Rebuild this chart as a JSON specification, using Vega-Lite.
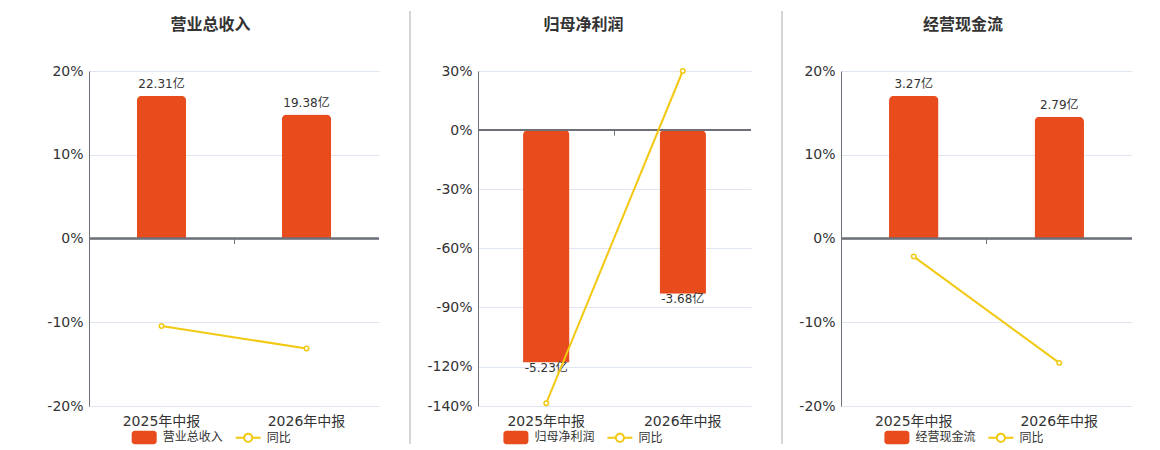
{
  "$schema": "https://vega.github.io/schema/vega-lite/v6.json",
  "background": "white",
  "padding": {"left": 46, "top": 10, "right": 0, "bottom": 0},
  "spacing": 15,
  "config": {
    "view": {"stroke": null},
    "font": "DejaVu Sans, Noto Sans CJK SC",
    "axis": {"labelFont": "DejaVu Sans, Noto Sans CJK SC", "labelColor": "#333333", "labelFontSize": 14},
    "legend": {
      "direction": "horizontal", "title": null, "symbolSize": 625, "symbolOpacity": 1, "symbolStrokeWidth": 0,
      "labelFont": "DejaVu Sans, Noto Sans CJK SC", "labelFontSize": 12, "labelColor": "#333333",
      "labelOffset": 6, "columnPadding": 12, "padding": 0
    },
    "title": {"font": "Noto Sans CJK SC", "fontSize": 16, "fontWeight": "bold", "color": "#333333", "anchor": "middle", "frame": "bounds", "offset": 31}
  },
  "resolve": {"scale": {"color": "independent", "x": "independent", "y": "independent"}, "legend": {"color": "independent"}},
  "hconcat": [
    {
      "title": {"text": "营业总收入", "dx": -3},
      "width": 290, "height": 335,
      "data": {"values": [
        {"period": "2025年中报", "amount": 22.31, "yoy": -10.46},
        {"period": "2026年中报", "amount": 19.38, "yoy": -13.13}
      ]},
      "resolve": {"scale": {"y": "independent"}, "axis": {"x": "independent"}},
      "layer": [
        {
          "encoding": {
            "x": {"field": "period", "type": "nominal", "sort": null, "scale": {"paddingInner": 0, "paddingOuter": 0}, "axis": {"orient": "bottom", "title": null, "domain": false, "ticks": false, "labelAngle": 0, "labelPadding": 8}},
            "y": {"field": "amount", "type": "quantitative", "scale": {"domain": [-26.19, 26.19], "nice": false, "zero": false}, "axis": null}
          },
          "layer": [
            {
              "mark": {"type": "bar", "width": {"band": 0.34}, "cornerRadiusEnd": 5},
              "encoding": {"color": {"datum": "营业总收入", "scale": {"domain": ["营业总收入", "同比"], "range": ["#E84C1D", "#F2C811"]},
                "legend": {"orient": "none", "legendX": 42.7, "legendY": 353.5, "symbolSize": 625,
                  "encode": {"symbols": {"update": {
                    "shape": {"signal": "datum.value === '同比' ? 'M-1,-0.08H-0.38V0.08H-1ZM0.38,-0.08H1V0.08H0.38ZM-0.4,0A0.4,0.4 0 1,1 0.4,0A0.4,0.4 0 1,1 -0.4,0ZM-0.25,0A0.25,0.25 0 1,0 0.25,0A0.25,0.25 0 1,0 -0.25,0Z' : 'M-0.76,-0.54H0.76A0.24,0.24 0 0 1 1,-0.3V0.3A0.24,0.24 0 0 1 0.76,0.54H-0.76A0.24,0.24 0 0 1 -1,0.3V-0.3A0.24,0.24 0 0 1 -0.76,-0.54Z'"}
                  }}}}}}
            },
            {
              "mark": {"type": "text", "baseline": "bottom", "dy": -5, "fontSize": 12, "color": "#333333", "text": {"expr": "replace(format(datum.amount, '.2f'), '\u2212', '-') + '亿'"}}
            }
          ]
        },
        {
          "layer": [
            {
              "mark": {"type": "rule", "color": "#6E7079", "strokeWidth": 2},
              "encoding": {"y": {"datum": 0, "type": "quantitative", "scale": {"domain": [-20, 20], "nice": false}, "axis": {"orient": "left", "values": [-20, -10, 0, 10, 20], "labelExpr": "datum.value + '%'", "title": null, "ticks": false, "labelPadding": 6, "domainColor": "#6E7079", "domainWidth": 1, "grid": true, "gridColor": "#E0E6F1"}}}
            },
            {
              "mark": {"type": "line", "strokeWidth": 2},
              "encoding": {
                "x": {"field": "period", "type": "nominal", "sort": null, "axis": {"orient": "bottom", "offset": -167.5, "domain": false, "labels": false, "ticks": true, "tickSize": 5, "tickColor": "#6E7079", "bandPosition": 0, "title": null, "grid": false}},
                "y": {"field": "yoy", "type": "quantitative"},
                "color": {"datum": "同比"}
              }
            },
            {
              "mark": {"type": "point", "filled": true, "fill": "#ffffff", "stroke": "#F2C811", "strokeWidth": 1.5, "size": 20, "opacity": 1},
              "encoding": {
                "x": {"field": "period", "type": "nominal", "sort": null},
                "y": {"field": "yoy", "type": "quantitative"}
              }
            }
          ]
        }
      ]
    },
    {
      "width": 15, "height": 335,
      "data": {"values": [{"a": -0.113, "b": 1.179}]},
      "mark": {"type": "rule", "color": "#AAAAAA", "strokeWidth": 1},
      "encoding": {
        "x": {"datum": 1, "type": "quantitative", "scale": {"domain": [0, 1]}, "axis": null},
        "y": {"field": "a", "type": "quantitative", "scale": {"domain": [0, 1], "nice": false, "zero": false}, "axis": null},
        "y2": {"field": "b"}
      }
    },
    {
      "title": {"text": "归母净利润", "dx": -6},
      "width": 273, "height": 335,
      "data": {"values": [
        {"period": "2025年中报", "amount": -5.23, "yoy": -138.6},
        {"period": "2026年中报", "amount": -3.68, "yoy": 30.0}
      ]},
      "resolve": {"scale": {"y": "independent"}, "axis": {"x": "independent"}},
      "layer": [
        {
          "encoding": {
            "x": {"field": "period", "type": "nominal", "sort": null, "scale": {"paddingInner": 0, "paddingOuter": 0}, "axis": {"orient": "bottom", "title": null, "domain": false, "ticks": false, "labelAngle": 0, "labelPadding": 8}},
            "y": {"field": "amount", "type": "quantitative", "scale": {"domain": [-6.207, 1.33], "nice": false, "zero": false}, "axis": null}
          },
          "layer": [
            {
              "mark": {"type": "bar", "width": {"band": 0.34}, "cornerRadiusEnd": 5},
              "encoding": {"color": {"datum": "归母净利润", "scale": {"domain": ["归母净利润", "同比"], "range": ["#E84C1D", "#F2C811"]},
                "legend": {"orient": "none", "legendX": 25.4, "legendY": 353.5, "symbolSize": 625,
                  "encode": {"symbols": {"update": {
                    "shape": {"signal": "datum.value === '同比' ? 'M-1,-0.08H-0.38V0.08H-1ZM0.38,-0.08H1V0.08H0.38ZM-0.4,0A0.4,0.4 0 1,1 0.4,0A0.4,0.4 0 1,1 -0.4,0ZM-0.25,0A0.25,0.25 0 1,0 0.25,0A0.25,0.25 0 1,0 -0.25,0Z' : 'M-0.76,-0.54H0.76A0.24,0.24 0 0 1 1,-0.3V0.3A0.24,0.24 0 0 1 0.76,0.54H-0.76A0.24,0.24 0 0 1 -1,0.3V-0.3A0.24,0.24 0 0 1 -0.76,-0.54Z'"}
                  }}}}}}
            },
            {
              "mark": {"type": "text", "baseline": "top", "dy": 0, "fontSize": 12, "color": "#333333", "text": {"expr": "replace(format(datum.amount, '.2f'), '\u2212', '-') + '亿'"}}
            }
          ]
        },
        {
          "layer": [
            {
              "mark": {"type": "rule", "color": "#6E7079", "strokeWidth": 2},
              "encoding": {"y": {"datum": 0, "type": "quantitative", "scale": {"domain": [-140, 30], "nice": false}, "axis": {"orient": "left", "values": [-140, -120, -90, -60, -30, 0, 30], "labelExpr": "datum.value + '%'", "title": null, "ticks": false, "labelPadding": 6, "domainColor": "#6E7079", "domainWidth": 1, "grid": true, "gridColor": "#E0E6F1"}}}
            },
            {
              "mark": {"type": "line", "strokeWidth": 2},
              "encoding": {
                "x": {"field": "period", "type": "nominal", "sort": null, "axis": {"orient": "bottom", "offset": -275.9, "domain": false, "labels": false, "ticks": true, "tickSize": 5, "tickColor": "#6E7079", "bandPosition": 0, "title": null, "grid": false}},
                "y": {"field": "yoy", "type": "quantitative"},
                "color": {"datum": "同比"}
              }
            },
            {
              "mark": {"type": "point", "filled": true, "fill": "#ffffff", "stroke": "#F2C811", "strokeWidth": 1.5, "size": 20, "opacity": 1},
              "encoding": {
                "x": {"field": "period", "type": "nominal", "sort": null},
                "y": {"field": "yoy", "type": "quantitative"}
              }
            }
          ]
        }
      ]
    },
    {
      "width": 15, "height": 335,
      "data": {"values": [{"a": -0.113, "b": 1.179}]},
      "mark": {"type": "rule", "color": "#AAAAAA", "strokeWidth": 1},
      "encoding": {
        "x": {"datum": 1, "type": "quantitative", "scale": {"domain": [0, 1]}, "axis": null},
        "y": {"field": "a", "type": "quantitative", "scale": {"domain": [0, 1], "nice": false, "zero": false}, "axis": null},
        "y2": {"field": "b"}
      }
    },
    {
      "title": {"text": "经营现金流", "dx": -3},
      "width": 291, "height": 335,
      "data": {"values": [
        {"period": "2025年中报", "amount": 3.27, "yoy": -2.16},
        {"period": "2026年中报", "amount": 2.79, "yoy": -14.85}
      ]},
      "resolve": {"scale": {"y": "independent"}, "axis": {"x": "independent"}},
      "layer": [
        {
          "encoding": {
            "x": {"field": "period", "type": "nominal", "sort": null, "scale": {"paddingInner": 0, "paddingOuter": 0}, "axis": {"orient": "bottom", "title": null, "domain": false, "ticks": false, "labelAngle": 0, "labelPadding": 8}},
            "y": {"field": "amount", "type": "quantitative", "scale": {"domain": [-3.838, 3.838], "nice": false, "zero": false}, "axis": null}
          },
          "layer": [
            {
              "mark": {"type": "bar", "width": {"band": 0.34}, "cornerRadiusEnd": 5},
              "encoding": {"color": {"datum": "经营现金流", "scale": {"domain": ["经营现金流", "同比"], "range": ["#E84C1D", "#F2C811"]},
                "legend": {"orient": "none", "legendX": 43.4, "legendY": 353.5, "symbolSize": 625,
                  "encode": {"symbols": {"update": {
                    "shape": {"signal": "datum.value === '同比' ? 'M-1,-0.08H-0.38V0.08H-1ZM0.38,-0.08H1V0.08H0.38ZM-0.4,0A0.4,0.4 0 1,1 0.4,0A0.4,0.4 0 1,1 -0.4,0ZM-0.25,0A0.25,0.25 0 1,0 0.25,0A0.25,0.25 0 1,0 -0.25,0Z' : 'M-0.76,-0.54H0.76A0.24,0.24 0 0 1 1,-0.3V0.3A0.24,0.24 0 0 1 0.76,0.54H-0.76A0.24,0.24 0 0 1 -1,0.3V-0.3A0.24,0.24 0 0 1 -0.76,-0.54Z'"}
                  }}}}}}
            },
            {
              "mark": {"type": "text", "baseline": "bottom", "dy": -5, "fontSize": 12, "color": "#333333", "text": {"expr": "replace(format(datum.amount, '.2f'), '\u2212', '-') + '亿'"}}
            }
          ]
        },
        {
          "layer": [
            {
              "mark": {"type": "rule", "color": "#6E7079", "strokeWidth": 2},
              "encoding": {"y": {"datum": 0, "type": "quantitative", "scale": {"domain": [-20, 20], "nice": false}, "axis": {"orient": "left", "values": [-20, -10, 0, 10, 20], "labelExpr": "datum.value + '%'", "title": null, "ticks": false, "labelPadding": 6, "domainColor": "#6E7079", "domainWidth": 1, "grid": true, "gridColor": "#E0E6F1"}}}
            },
            {
              "mark": {"type": "line", "strokeWidth": 2},
              "encoding": {
                "x": {"field": "period", "type": "nominal", "sort": null, "axis": {"orient": "bottom", "offset": -167.5, "domain": false, "labels": false, "ticks": true, "tickSize": 5, "tickColor": "#6E7079", "bandPosition": 0, "title": null, "grid": false}},
                "y": {"field": "yoy", "type": "quantitative"},
                "color": {"datum": "同比"}
              }
            },
            {
              "mark": {"type": "point", "filled": true, "fill": "#ffffff", "stroke": "#F2C811", "strokeWidth": 1.5, "size": 20, "opacity": 1},
              "encoding": {
                "x": {"field": "period", "type": "nominal", "sort": null},
                "y": {"field": "yoy", "type": "quantitative"}
              }
            }
          ]
        }
      ]
    }
  ]
}
